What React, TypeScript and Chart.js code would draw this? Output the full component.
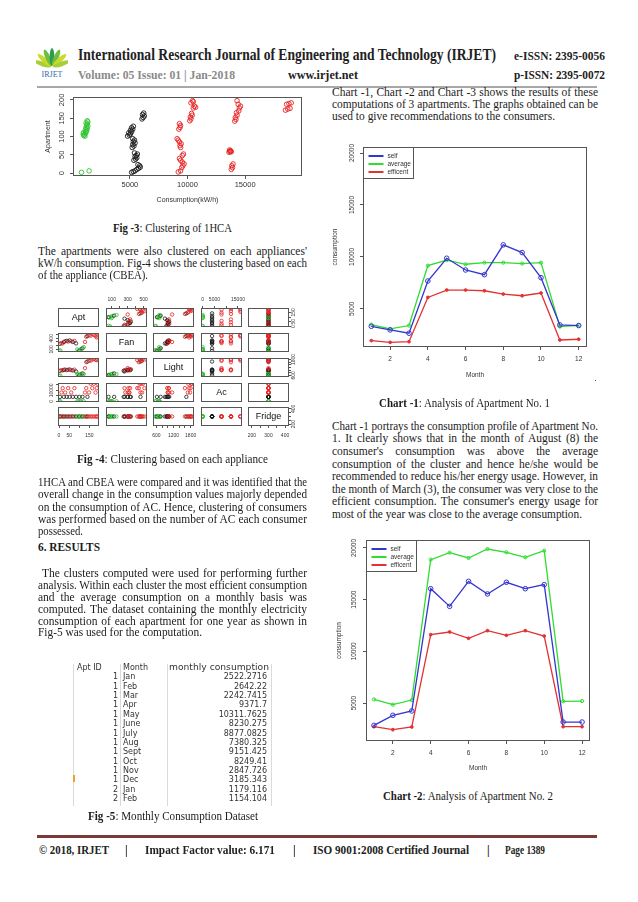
import React, { useEffect, useLayoutEffect, useRef } from 'react';
import { Chart, registerables } from 'chart.js';
Chart.register(...registerables);

const SANS = '"Liberation Sans", Arial, sans-serif';
const SERIF = '"Liberation Serif", "Times New Roman", serif';
const TABLE_FONT = '"DejaVu Sans", Verdana, sans-serif';

// ---------- Chart -1 / Chart -2 data ----------
const months = [1, 2, 3, 4, 5, 6, 7, 8, 9, 10, 11, 12];
const monthTicks = [2, 4, 6, 8, 10, 12];
const monthTickLabels = ['2', '4', '6', '8', '10', '12'];
const consTicks = [5000, 10000, 15000, 20000];
const consTickLabels = ['5000', '10000', '15000', '20000'];
const seriesNames = ['self', 'average', 'efficent'];
const apt1Self = [3320, 2970, 2650, 7680, 9870, 8740, 8290, 11160, 10420, 8000, 3450, 3390];
const apt1Average = [3480, 3070, 3390, 9160, 9680, 9290, 9450, 9450, 9360, 9450, 3290, 3420];
const apt1Efficient = [1940, 1770, 1840, 6100, 6810, 6810, 6740, 6420, 6260, 6520, 2000, 2070];
const apt2Self = [2840, 3810, 4230, 16060, 14350, 16770, 15550, 16680, 16060, 16450, 3160, 3160];
const apt2Average = [5350, 4840, 5290, 18870, 19550, 19030, 19900, 19580, 19100, 19740, 5160, 5190];
const apt2Efficient = [2710, 2420, 2680, 11610, 11870, 11260, 12000, 11550, 12000, 11480, 2710, 2710];

// ---------- Fig -3 data (consumption, apartment) ----------
const hcaGreen = [[1100, 101], [1000, 103], [1050, 105], [950, 107], [1150, 109], [1000, 111], [1200, 113], [1250, 116], [1150, 119], [1300, 122], [1200, 125], [1350, 128], [1250, 131], [1300, 134], [1200, 137], [1350, 140], [1300, 143], [800, 2], [1460, 6]];
const hcaBlack = [[5150, 2], [5300, 4], [5450, 6], [5600, 10], [5750, 13], [5900, 16], [5850, 20], [5700, 23], [5350, 35], [5500, 38], [5600, 42], [5450, 45], [5550, 48], [5650, 52], [5400, 55], [5200, 70], [5350, 74], [5250, 78], [5450, 82], [5300, 86], [5400, 90], [5250, 94], [4800, 101], [4950, 104], [5050, 107], [4900, 110], [5150, 113], [5050, 117], [5250, 120], [5150, 124], [5300, 128], [6050, 148], [6150, 152], [6250, 156], [6100, 160], [6200, 164]];
const hcaRed = [[9200, 3], [9400, 6], [9500, 15], [9600, 20], [9700, 25], [9550, 30], [9400, 35], [9300, 40], [9550, 48], [9650, 52], [9400, 70], [9350, 75], [9450, 80], [9300, 85], [9200, 90], [9100, 94], [9250, 120], [9350, 125], [9400, 130], [9300, 135], [10200, 143], [10300, 148], [10250, 153], [10400, 158], [10350, 163], [10500, 178], [10700, 180], [10600, 183], [10300, 192], [10500, 195], [10450, 198], [13800, 10], [13900, 15], [13850, 20], [13950, 25], [13600, 57], [13700, 59], [13750, 61], [13650, 63], [13700, 60], [13800, 58], [14100, 142], [14200, 147], [14150, 152], [14300, 158], [14250, 165], [14450, 170], [14500, 178], [14600, 183], [14400, 188], [14300, 198], [18500, 172], [18700, 175], [18900, 177], [18600, 188], [18800, 190], [19000, 192]];
const hcaXTicks = [5000, 10000, 15000];
const hcaXLabels = ['5000', '10000', '15000'];
const hcaYTicks = [0, 50, 100, 150, 200];
const hcaYLabels = ['0', '50', '100', '150', '200'];

// ---------- Fig -4 data (CBEA) ----------
const pairVars = ['Apt', 'Fan', 'Light', 'Ac', 'Fridge'];
const cbeaApt = [2, 7, 5, 12, 18, 24, 30, 38, 45, 52, 60, 68, 76, 84, 90, 96, 100, 104, 110, 116, 122, 128, 134, 140, 148, 156, 164, 172, 180, 186, 190];
const cbeaFan = [80, 60, 250, 270, 260, 300, 320, 330, 310, 340, 320, 300, 330, 260, 100, 70, 60, 90, 110, 130, 160, 300, 440, 460, 480, 470, 510, 490, 460, 420, 450];
const cbeaLight = [560, 580, 950, 1000, 980, 1020, 1050, 1000, 1030, 1050, 1000, 980, 1040, 900, 700, 650, 620, 680, 720, 750, 700, 1150, 1600, 1650, 1700, 1720, 1800, 1850, 1780, 1750, 1820];
const cbeaAc = [0, 0, 4000, 8000, 12000, 4000, 8000, 4000, 12000, 4000, 8000, 4000, 12000, 4000, 0, 0, 4000, 0, 0, 4000, 0, 8000, 12000, 4000, 8000, 16000, 12000, 16000, 8000, 12000, 16000];
const cbeaFridge = [300, 300, 300, 300, 300, 300, 300, 300, 300, 300, 300, 300, 300, 300, 300, 300, 300, 300, 300, 300, 300, 300, 300, 300, 300, 300, 300, 300, 300, 300, 300];
const cbeaCluster = [0, 0, 1, 2, 2, 1, 2, 1, 2, 1, 2, 1, 2, 1, 0, 0, 1, 0, 0, 1, 0, 2, 2, 1, 2, 2, 2, 2, 2, 2, 2];
const clusterColors = ['#2fc42f', '#1a1a1a', '#e62222'];

const aptRange = [-5, 197];
const aptTicks = [0, 50, 100, 150];
const aptEdgeLabels = ['0', '50', '', '150'];
const fanRange = [28, 542];
const fanTicks = [100, 200, 300, 400, 500];
const fanTopLabels = ['100', '', '300', '', '500'];
const fanSideLabels = ['100', '', '', '400', ''];
const lightRange = [482, 1918];
const lightTicks = [600, 800, 1000, 1200, 1400, 1600, 1800];
const lightBottomLabels = ['600', '', '', '1200', '', '', '1800'];
const lightSideLabels = ['600', '', '', '', '', '', '1800'];
const acRange = [-700, 16700];
const acTicks = [0, 5000, 10000, 15000];
const acTopLabels = ['0', '5000', '', '15000'];
const acSideLabels = ['0', '', '10000', ''];
const fridgeRange = [176, 424];
const fridgeTicks = [200, 250, 300, 350, 400];
const fridgeBottomLabels = ['200', '', '300', '', '400'];
const fridgeSideLabels = ['200', '', '', '', '400'];

// ---------- Fig -5 table ----------
const tableHeader = ['Apt ID', 'Month', 'monthly consumption'];
const tableAptIds = ['1', '1', '1', '1', '1', '1', '1', '1', '1', '1', '1', '1', '2', '2'];
const tableMonths = ['Jan', 'Feb', 'Mar', 'Apr', 'May', 'June', 'July', 'Aug', 'Sept', 'Oct', 'Nov', 'Dec', 'Jan', 'Feb'];
const tableConsumption = ['2522.2716', '2642.22', '2242.7415', '9371.7', '10311.7625', '8230.275', '8877.0825', '7380.325', '9151.425', '8249.41', '2847.726', '3185.343', '1179.116', '1154.104'];

// ---------- plugins ----------
const rBox = {
  id: 'rBox',
  afterDatasetsDraw(chart: any) {
    const { left, top, right, bottom } = chart.chartArea;
    const ctx = chart.ctx;
    ctx.save();
    ctx.strokeStyle = '#555';
    ctx.lineWidth = 1;
    ctx.strokeRect(Math.round(left) + 0.5, Math.round(top) + 0.5, Math.round(right - left) - 1, Math.round(bottom - top) - 1);
    ctx.restore();
  },
};

function yLabelsPlugin(ticks: number[], labels: string[], side: string, offset: number, size: number) {
  return {
    id: 'rYLabels',
    afterDraw(chart: any) {
      const scale = chart.scales.y;
      const ca = chart.chartArea;
      const ctx = chart.ctx;
      ctx.save();
      ctx.font = `${size}px ${SANS}`;
      ctx.fillStyle = '#333';
      ctx.textAlign = 'center';
      ctx.textBaseline = 'middle';
      const x = side === 'right' ? ca.right + offset : ca.left - offset;
      ticks.forEach((v, i) => {
        const lab = labels[i];
        if (!lab) return;
        const y = scale.getPixelForValue(v);
        ctx.save();
        ctx.translate(x, y);
        ctx.rotate(-Math.PI / 2);
        ctx.fillText(lab, 0, 0);
        ctx.restore();
      });
      ctx.restore();
    },
  };
}

function legendPlugin(w: number, h: number, size: number) {
  return {
    id: 'rLegend',
    afterDraw(chart: any) {
      const ca = chart.chartArea;
      const ctx = chart.ctx;
      const l = Math.round(ca.left) + 0.5;
      const t = Math.round(ca.top) + 0.5;
      ctx.save();
      ctx.fillStyle = '#fff';
      ctx.fillRect(l, t, w, h);
      ctx.strokeStyle = '#555';
      ctx.lineWidth = 1;
      ctx.strokeRect(l, t, w, h);
      ctx.font = `${size}px ${SANS}`;
      ctx.textBaseline = 'middle';
      ctx.textAlign = 'left';
      chart.data.datasets.forEach((ds: any, i: number) => {
        const y = Math.round(t + 8 + 8 * i);
        ctx.strokeStyle = ds.borderColor;
        ctx.lineWidth = 2;
        ctx.beginPath();
        ctx.moveTo(l + 5, y);
        ctx.lineTo(l + 20, y);
        ctx.stroke();
        ctx.fillStyle = '#333';
        ctx.fillText(ds.label, l + 24, y);
      });
      ctx.restore();
    },
  };
}

function diagLabelPlugin(text: string) {
  return {
    id: 'rDiag',
    afterDraw(chart: any) {
      const ca = chart.chartArea;
      const ctx = chart.ctx;
      ctx.save();
      ctx.font = `9px ${SANS}`;
      ctx.fillStyle = '#111';
      ctx.textAlign = 'center';
      ctx.textBaseline = 'middle';
      ctx.fillText(text, (ca.left + ca.right) / 2, (ca.top + ca.bottom) / 2 + 0.5);
      ctx.restore();
    },
  };
}

function rConfig(p: any) {
  const xDisp = p.x.display !== false;
  const yDisp = p.y.display !== false;
  const gridOpts = { display: true, drawOnChartArea: false, drawTicks: true, tickLength: p.tickLen, color: '#555', tickColor: '#555', lineWidth: 1 };
  const plugins: any[] = [rBox];
  if (yDisp && p.y.labels) plugins.push(yLabelsPlugin(p.y.ticks, p.y.labels, p.y.position || 'left', p.y.offset, p.y.size));
  if (p.extra) plugins.push(...p.extra);
  return {
    type: p.type,
    data: { datasets: p.datasets },
    options: {
      animation: false,
      responsive: false,
      devicePixelRatio: 1,
      events: [],
      layout: { padding: p.layoutPad },
      plugins: { legend: { display: false }, tooltip: { enabled: false } },
      scales: {
        x: {
          type: 'linear',
          display: xDisp,
          position: p.x.position || 'bottom',
          min: p.x.min,
          max: p.x.max,
          afterBuildTicks: (s: any) => { s.ticks = p.x.ticks.map((v: number) => ({ value: v })); },
          afterFit: (s: any) => { s.height = xDisp ? p.xSize : 0; },
          ticks: {
            autoSkip: false, maxRotation: 0, minRotation: 0, padding: p.x.pad, color: '#333',
            font: { size: p.x.size, family: SANS },
            callback: (_v: any, i: number) => (p.x.labels ? p.x.labels[i] || '' : ''),
          },
          grid: gridOpts,
          border: { display: false },
          title: p.x.title
            ? { display: true, text: p.x.title, color: '#333', font: { size: p.x.titleSize, family: SANS }, padding: { top: 0, bottom: p.x.titlePad } }
            : { display: false },
        },
        y: {
          type: 'linear',
          display: yDisp,
          position: p.y.position || 'left',
          min: p.y.min,
          max: p.y.max,
          afterBuildTicks: (s: any) => { s.ticks = p.y.ticks.map((v: number) => ({ value: v })); },
          afterFit: (s: any) => { s.width = yDisp ? p.ySize : 0; },
          ticks: { display: false },
          grid: gridOpts,
          border: { display: false },
          title: p.y.title
            ? { display: true, text: p.y.title, color: '#333', font: { size: p.y.titleSize, family: SANS }, padding: { top: p.y.titlePad, bottom: 0 } }
            : { display: false },
        },
      },
    },
    plugins,
  };
}

function ChartBox({ left, top, width, height, config }: any) {
  const ref = useRef<HTMLCanvasElement>(null);
  useEffect(() => {
    const chart = new Chart(ref.current as HTMLCanvasElement, config);
    return () => chart.destroy();
  }, []);
  return (
    <canvas ref={ref} width={width} height={height}
      style={{ position: 'absolute', left, top, width, height, display: 'block' }} />
  );
}

// ---------- chart configs ----------
const BLUE = '#3535d0';
const GREEN = '#2fdc2f';
const RED = '#e23232';

function monthlyDatasets(self: number[], avg: number[], eff: number[]) {
  const pts = (arr: number[]) => months.map((m, i) => ({ x: m, y: arr[i] }));
  return [
    { label: seriesNames[0], data: pts(self), borderColor: BLUE, borderWidth: 1.3, pointRadius: 2.3, pointBorderColor: BLUE, pointBackgroundColor: 'rgba(0,0,0,0)', pointBorderWidth: 1, tension: 0 },
    { label: seriesNames[1], data: pts(avg), borderColor: GREEN, borderWidth: 1.3, pointRadius: 1.6, pointBorderColor: GREEN, pointBackgroundColor: 'rgba(0,0,0,0)', pointBorderWidth: 1, tension: 0 },
    { label: seriesNames[2], data: pts(eff), borderColor: RED, borderWidth: 1.3, pointRadius: 1.4, pointBorderColor: RED, pointBackgroundColor: RED, pointBorderWidth: 1, tension: 0 },
  ];
}

const chart1Config = rConfig({
  type: 'line',
  datasets: monthlyDatasets(apt1Self, apt1Average, apt1Efficient),
  layoutPad: { left: 0, top: 9, right: 23, bottom: 0 },
  xSize: 38, ySize: 33, tickLen: 3,
  x: { min: 0.56, max: 12.44, ticks: monthTicks, labels: monthTickLabels, pad: 5.1, size: 6.5, title: 'Month', titleSize: 6.5, titlePad: 6.1 },
  y: { min: 1325, max: 20580, ticks: consTicks, labels: consTickLabels, offset: 11, size: 6.5, title: 'consumption', titleSize: 6.5, titlePad: 1.1 },
  extra: [legendPlugin(50, 31, 6.5)],
});

const chart2Config = rConfig({
  type: 'line',
  datasets: monthlyDatasets(apt2Self, apt2Average, apt2Efficient),
  layoutPad: { left: 0, top: 8, right: 20, bottom: 0 },
  xSize: 34, ySize: 36, tickLen: 3,
  x: { min: 0.58, max: 12.42, ticks: monthTicks, labels: monthTickLabels, pad: 5.1, size: 6.5, title: 'Month', titleSize: 6.5, titlePad: 3.1 },
  y: { min: 1325, max: 20770, ticks: consTicks, labels: consTickLabels, offset: 12, size: 6.5, title: 'consumption', titleSize: 6.5, titlePad: 5.1 },
  extra: [legendPlugin(50, 31, 6.5)],
});

const hcaPoint = (pts: number[][], color: string) => ({
  data: pts.map((p) => ({ x: p[0], y: p[1] })),
  pointRadius: 2.3, pointBorderWidth: 0.9, pointBorderColor: color, pointBackgroundColor: 'rgba(0,0,0,0)', showLine: false,
});

const fig3Config = rConfig({
  type: 'scatter',
  datasets: [hcaPoint(hcaGreen, '#2fc42f'), hcaPoint(hcaBlack, '#1a1a1a'), hcaPoint(hcaRed, '#e62222')],
  layoutPad: { left: 0, top: 7, right: 8, bottom: 0 },
  xSize: 29, ySize: 43, tickLen: 3,
  x: { min: 64, max: 19936, ticks: hcaXTicks, labels: hcaXLabels, pad: 1.5, size: 7.5, title: 'Consumption(kW/h)', titleSize: 7, titlePad: 0.8 },
  y: { min: -8, max: 208, ticks: hcaYTicks, labels: hcaYLabels, offset: 11, size: 7.5, title: 'Apartment', titleSize: 7, titlePad: 13.8 },
});

// ---------- pairs (Fig -4) ----------
const varValues = [cbeaApt, cbeaFan, cbeaLight, cbeaAc, cbeaFridge];
const varRanges = [aptRange, fanRange, lightRange, acRange, fridgeRange];
const varTicks = [aptTicks, fanTicks, lightTicks, acTicks, fridgeTicks];
const varXLabels = [aptEdgeLabels, fanTopLabels, lightBottomLabels, acTopLabels, fridgeBottomLabels];
const varYLabels = [aptEdgeLabels, fanSideLabels, lightSideLabels, acSideLabels, fridgeSideLabels];
const panelX = [58, 106, 153, 201, 248];
const panelY = [308, 333, 358, 383, 407];
const PW = 41;
const PH = 19;
const PM = 14;

function pairConfig(r: number, c: number) {
  const xTop = r === 0 && (c === 1 || c === 3);
  const xBottom = r === 4 && (c === 0 || c === 2 || c === 4);
  const yLeft = c === 0 && (r === 1 || r === 3);
  const yRight = c === 4 && (r === 0 || r === 2 || r === 4);
  const datasets = r === c ? [] : [{
    data: varValues[c].map((v, i) => ({ x: v, y: varValues[r][i] })),
    pointRadius: 1.7, pointBorderWidth: 0.8,
    pointBorderColor: cbeaCluster.map((k) => clusterColors[k]),
    pointBackgroundColor: 'rgba(0,0,0,0)', showLine: false,
  }];
  return rConfig({
    type: 'scatter',
    datasets,
    layoutPad: { left: yLeft ? 0 : PM, right: yRight ? 0 : PM, top: xTop ? 0 : PM, bottom: xBottom ? 0 : PM },
    xSize: PM, ySize: PM, tickLen: 2,
    x: { display: xTop || xBottom, position: xTop ? 'top' : 'bottom', min: varRanges[c][0], max: varRanges[c][1], ticks: varTicks[c], labels: varXLabels[c], pad: xTop ? 3 : 5, size: 5 },
    y: { display: yLeft || yRight, position: yRight ? 'right' : 'left', min: varRanges[r][0], max: varRanges[r][1], ticks: varTicks[r], labels: varYLabels[r], offset: yRight ? 4.5 : 6, size: 5 },
    extra: r === c ? [diagLabelPlugin(pairVars[r])] : [],
  });
}

// ---------- text ----------
type Part = { t: string; b?: boolean };
function T({ x, y, w, size, mode = 'left', parts, family = SERIF, color = '#1b1b1b' }: { x: number; y: number; w?: number; size: number; mode?: string; parts: Part[]; family?: string; color?: string }) {
  const ref = useRef<HTMLSpanElement>(null);
  useLayoutEffect(() => {
    const el = ref.current;
    if (!el || !w) return;
    const apply = () => {
      el.style.wordSpacing = '0px';
      el.style.transform = 'none';
      const n = el.getBoundingClientRect().width;
      if (n <= 0) return;
      const spaces = (el.textContent || '').split(' ').length - 1;
      if (mode === 'justify' && spaces > 0 && n <= w) {
        el.style.wordSpacing = `${(w - n) / spaces}px`;
      } else if (mode === 'justify' || mode === 'fit') {
        el.style.transform = `scaleX(${w / n})`;
      }
    };
    apply();
    if ((document as any).fonts && (document as any).fonts.ready) (document as any).fonts.ready.then(apply);
  }, []);
  return (
    <span ref={ref} style={{ position: 'absolute', left: x, top: y - size * 0.62, fontSize: size, lineHeight: `${size}px`, whiteSpace: 'pre', fontFamily: family, color, transformOrigin: '0 0' }}>
      {parts.map((p, i) => (<span key={i} style={{ fontWeight: p.b ? 700 : 400 }}>{p.t}</span>))}
    </span>
  );
}

const P = (t: string): Part[] => [{ t }];
const B = (t: string): Part[] => [{ t, b: true }];

type LineSpec = [string, number, number, number, string]; // text, x, y, width, mode
const leftLines: LineSpec[] = [
  ["The apartments were also clustered on each appliances'", 38, 253, 269, 'justify'],
  ['kW/h consumption. Fig-4 shows the clustering based on each', 38, 265, 269, 'justify'],
  ['of the appliance (CBEA).', 38, 277, 110, 'fit'],
  ['1HCA and CBEA were compared and it was identified that the', 38, 484, 269, 'justify'],
  ['overall change in the consumption values majorly depended', 38, 496.4, 269, 'justify'],
  ['on the consumption of AC. Hence, clustering of consumers', 38, 508.8, 269, 'justify'],
  ['was performed based on the number of AC each consumer', 38, 521.2, 269, 'justify'],
  ['possessed.', 38, 533.6, 45, 'fit'],
  ['The clusters computed were used for performing further', 42, 575, 265, 'justify'],
  ['analysis. Within each cluster the most efficient consumption', 38, 587, 269, 'justify'],
  ['and the average consumption on a monthly basis was', 38, 599, 269, 'justify'],
  ['computed. The dataset containing the monthly electricity', 38, 610.8, 269, 'justify'],
  ['consumption of each apartment for one year as shown in', 38, 622.7, 269, 'justify'],
  ['Fig-5 was used for the computation.', 38, 634.5, 164, 'fit'],
];
const rightLines: LineSpec[] = [
  ['Chart -1, Chart -2 and Chart -3 shows the results of these', 332, 94, 266, 'justify'],
  ['computations of 3 apartments. The graphs obtained can be', 332, 106, 266, 'justify'],
  ['used to give recommendations to the consumers.', 332, 118, 223, 'fit'],
  ['Chart -1 portrays the consumption profile of Apartment No.', 332, 428, 266, 'justify'],
  ['1. It clearly shows that in the month of August (8) the', 332, 440.6, 266, 'justify'],
  ["consumer's consumption was above the average", 332, 453.2, 266, 'justify'],
  ['consumption of the cluster and hence he/she would be', 332, 465.8, 266, 'justify'],
  ['recommended to reduce his/her energy usage. However, in', 332, 478.4, 266, 'justify'],
  ['the month of March (3), the consumer was very close to the', 332, 491, 266, 'justify'],
  ["efficient consumption. The consumer's energy usage for", 332, 503.6, 266, 'justify'],
  ['most of the year was close to the average consumption.', 332, 516.2, 250, 'fit'],
];

function Logo() {
  const angles = [-72, -48, -24, 0, 24, 48, 72];
  const cols = ['#a9cf38', '#c9da2c', '#6dbf3f', '#2f9b50', '#6dbf3f', '#c9da2c', '#a9cf38'];
  return (
    <svg style={{ position: 'absolute', left: 36, top: 40 }} width={32} height={40}>
      {angles.map((a, i) => (
        <ellipse key={i} cx={16} cy={17} rx={2.4} ry={9} fill={cols[i]} transform={`rotate(${a} 16 27)`} />
      ))}
      <text x={16} y={37} fontSize={8} textAnchor="middle" fill="#2d6db5" fontFamily={SERIF}>IRJET</text>
    </svg>
  );
}

function DataTable() {
  const y0 = 669;
  const step = 9.36;
  const fs = 8;
  const cell = (key: string, text: string, left: number, width: number, align: any, y: number) => (
    <div key={key} style={{ position: 'absolute', left, width, top: y - fs * 0.62, fontSize: fs, lineHeight: `${fs}px`, fontFamily: TABLE_FONT, color: '#333', textAlign: align, whiteSpace: 'pre' }}>{text}</div>
  );
  const vlines = [73, 120, 167, 271];
  return (
    <>
      {vlines.map((x) => (<div key={'v' + x} style={{ position: 'absolute', left: x, top: 664, width: 1, height: 142, background: '#dadada' }} />))}
      <div style={{ position: 'absolute', left: 73, top: 775, width: 2, height: 7, background: '#f0a030' }} />
      {cell('h0', tableHeader[0], 77, 40, 'left', y0)}
      {cell('h1', tableHeader[1], 123, 44, 'left', y0)}
      <T x={169} y={y0} w={100} size={fs} mode="fit" family={TABLE_FONT} color="#333" parts={P(tableHeader[2])} />
      {tableMonths.map((m, i) => {
        const y = y0 + step * (i + 1);
        return (
          <React.Fragment key={i}>
            {cell('a' + i, tableAptIds[i], 95, 23, 'right', y)}
            {cell('m' + i, m, 123, 44, 'left', y)}
            {cell('c' + i, tableConsumption[i], 190, 77, 'right', y)}
          </React.Fragment>
        );
      })}
    </>
  );
}

export default function App() {
  const panels: any[] = [];
  for (let r = 0; r < 5; r++) {
    for (let c = 0; c < 5; c++) {
      panels.push(
        <ChartBox key={`p${r}${c}`} left={panelX[c] - PM} top={panelY[r] - PM} width={PW + 2 * PM} height={PH + 2 * PM} config={pairConfig(r, c)} />
      );
    }
  }
  return (
    <div style={{ position: 'absolute', left: 0, top: 0, width: 638, height: 902, background: '#fff', overflow: 'hidden' }}>
      {/* header */}
      <Logo />
      <T x={78} y={57} w={418} size={17} mode="fit" color="#222" parts={B('International Research Journal of Engineering and Technology (IRJET)')} />
      <T x={514} y={57} w={91} size={13} mode="fit" color="#222" parts={B('e-ISSN: 2395-0056')} />
      <T x={78} y={76} w={157} size={13} mode="fit" color="#8a8a8a" parts={B('Volume: 05 Issue: 01 | Jan-2018')} />
      <T x={288} y={76} w={70} size={13} mode="fit" color="#222" parts={B('www.irjet.net')} />
      <T x={514} y={76} w={91} size={13} mode="fit" color="#222" parts={B('p-ISSN: 2395-0072')} />
      <div style={{ position: 'absolute', left: 37, top: 86, width: 560, height: 2, background: '#a8a8a8' }} />

      {/* left column */}
      <ChartBox left={30} top={90} width={280} height={115} config={fig3Config} />
      <T x={113} y={229} w={119} size={12} mode="fit" parts={[{ t: 'Fig -3', b: true }, { t: ': Clustering of 1HCA' }]} />
      {panels}
      <T x={77} y={460} w={191} size={12} mode="fit" parts={[{ t: 'Fig -4', b: true }, { t: ': Clustering based on each appliance' }]} />
      <T x={38} y={548} w={62} size={13} mode="fit" parts={B('6. RESULTS')} />
      {leftLines.map((l, i) => (<T key={'l' + i} x={l[1]} y={l[2]} w={l[3]} size={11.5} mode={l[4]} parts={P(l[0])} />))}
      <DataTable />
      <T x={88} y={817} w={170} size={12} mode="fit" parts={[{ t: 'Fig -5', b: true }, { t: ': Monthly Consumption Dataset' }]} />

      {/* right column */}
      {rightLines.map((l, i) => (<T key={'r' + i} x={l[1]} y={l[2]} w={l[3]} size={11.5} mode={l[4]} parts={P(l[0])} />))}
      <ChartBox left={330} top={138} width={280} height={247} config={chart1Config} />
      <div style={{ position: 'absolute', left: 595, top: 380, width: 1, height: 1, background: '#555' }} />
      <T x={379} y={404} w={171} size={12} mode="fit" parts={[{ t: 'Chart -1', b: true }, { t: ': Analysis of Apartment No. 1' }]} />
      <ChartBox left={330} top={532} width={280} height={243} config={chart2Config} />
      <T x={383} y={797} w={170} size={12} mode="fit" parts={[{ t: 'Chart -2', b: true }, { t: ': Analysis of Apartment No. 2' }]} />

      {/* footer */}
      <div style={{ position: 'absolute', left: 37, top: 835, width: 560, height: 3, background: '#7a3a3a' }} />
      <T x={39} y={851} w={70} size={12} mode="fit" color="#222" parts={B('© 2018, IRJET')} />
      <T x={125} y={851} size={12} color="#222" parts={B('|')} />
      <T x={145} y={851} w={130} size={12} mode="fit" color="#222" parts={B('Impact Factor value: 6.171')} />
      <T x={293} y={851} size={12} color="#222" parts={B('|')} />
      <T x={313} y={851} w={156} size={12} mode="fit" color="#222" parts={B('ISO 9001:2008 Certified Journal')} />
      <T x={487} y={851} size={12} color="#222" parts={B('|')} />
      <T x={505} y={851} w={40} size={12} mode="fit" color="#222" parts={B('Page 1389')} />
    </div>
  );
}
